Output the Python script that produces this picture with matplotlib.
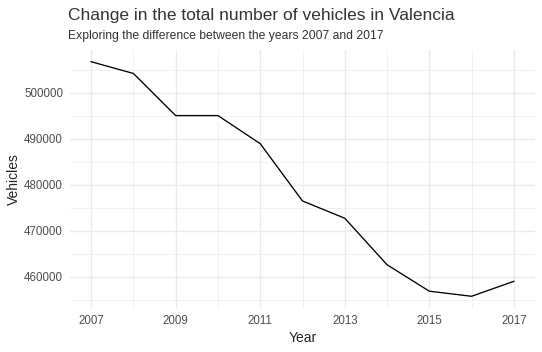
import matplotlib
matplotlib.use("Agg")
import matplotlib.pyplot as plt
from matplotlib.ticker import MultipleLocator

years = [2007, 2008, 2009, 2010, 2011, 2012, 2013, 2014, 2015, 2016, 2017]
vehicles = [506750, 504200, 495050, 495050, 488950, 476500, 472750, 462650, 456900, 455800, 459050]

plt.rcParams['font.family'] = ['Liberation Sans', 'DejaVu Sans']

fig = plt.figure(figsize=(5.42, 3.52), dpi=100)
ax = fig.add_axes([70/542, 1 - 308/352, 465/542, 258/352])

ax.plot(years, vehicles, color='black', lw=0.95, zorder=3)
ax.margins(x=0.05, y=0.05)

ax.xaxis.set_major_locator(MultipleLocator(2, offset=1))
ax.xaxis.set_minor_locator(MultipleLocator(1))
ax.yaxis.set_major_locator(MultipleLocator(10000))
ax.yaxis.set_minor_locator(MultipleLocator(5000))

ax.grid(which='major', color='#EBEBEB', lw=1.0)
ax.grid(which='minor', color='#EBEBEB', lw=0.5)
ax.set_axisbelow(True)
for s in ax.spines.values():
    s.set_visible(False)
ax.tick_params(which='both', length=0, labelsize=8.3, labelcolor='#4D4D4D', pad=5)

ax.set_xlabel('Year', fontsize=10, color='#222222', labelpad=3)
ax.set_ylabel('Vehicles', fontsize=10, color='#222222', labelpad=2)

fig.text(68/542, 1 - 20/352, 'Change in the total number of vehicles in Valencia',
         fontsize=12.5, color='#333333', ha='left', va='baseline')
fig.text(68/542, 1 - 39/352, 'Exploring the difference between the years 2007 and 2017',
         fontsize=8.75, color='#333333', ha='left', va='baseline')

fig.savefig('out.png', dpi=100)
